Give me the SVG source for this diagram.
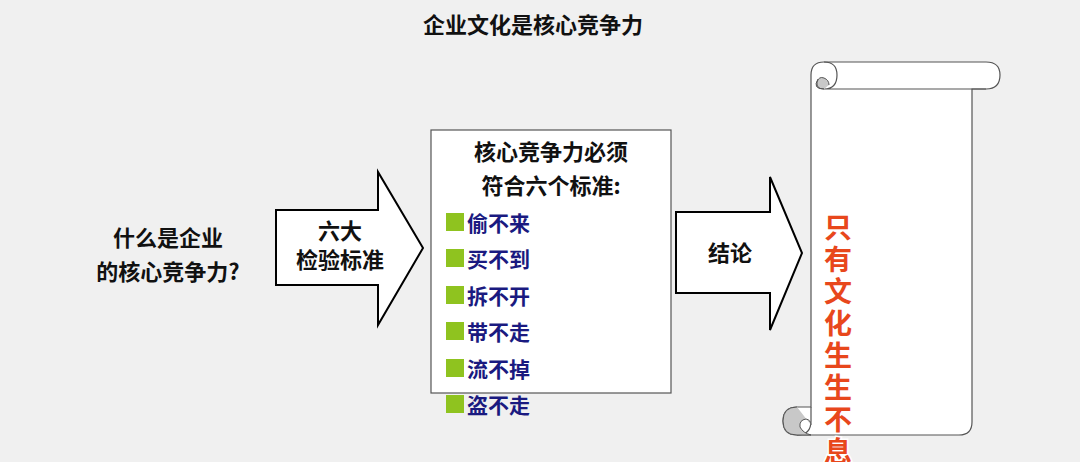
<svg xmlns="http://www.w3.org/2000/svg" width="1080" height="462" viewBox="0 0 1080 462">
<style>
text{font-family:"Noto Sans CJK SC","Liberation Sans",sans-serif;font-weight:bold}
.blk{fill:#111;font-size:22px}
.item{fill:#1a1a80;font-size:21px}
.sh{fill:#fff;stroke:#000;stroke-width:2}
.sq{fill:#8fc31f}
</style>
<rect width="1080" height="462" fill="#f0f0f0"/>
<text x="533" y="33" text-anchor="middle" class="blk" font-size="25">企业文化是核心竞争力</text>
<g id="question">
<text x="168" y="246" text-anchor="middle" class="blk" font-size="24">什么是企业</text>
<text x="168" y="280" text-anchor="middle" class="blk" font-size="24">的核心竞争力?</text>
</g>
<g id="connectors">
<path class="sh" d="M276,210 H378 V172 L423,248 L378,325 V285 H276 Z"/>
<text x="340" y="239" text-anchor="middle" class="blk" font-size="16">六大</text>
<text x="340" y="268" text-anchor="middle" class="blk" font-size="16">检验标准</text>
<path class="sh" d="M676,212 H770 V177 L802,253 L770,330 V293 H676 Z"/>
<text x="730" y="261" text-anchor="middle" class="blk">结论</text>
</g>
<g id="standards">
<rect x="431" y="130" width="240" height="263" fill="#fff" stroke="#555" stroke-width="1.2"/>
<text x="551" y="160" text-anchor="middle" class="blk">核心竞争力必须</text>
<text x="551" y="194" text-anchor="middle" class="blk">符合六个标准:</text>
<rect class="sq" x="446" y="213" width="18" height="18"/><text x="467" y="231" class="item">偷不来</text>
<rect class="sq" x="446" y="249" width="18" height="18"/><text x="467" y="267" class="item">买不到</text>
<rect class="sq" x="446" y="286" width="18" height="18"/><text x="467" y="304" class="item">拆不开</text>
<rect class="sq" x="446" y="322" width="18" height="18"/><text x="467" y="340" class="item">带不走</text>
<rect class="sq" x="446" y="359" width="18" height="18"/><text x="467" y="377" class="item">流不掉</text>
<rect class="sq" x="446" y="395" width="18" height="18"/><text x="467" y="413" class="item">盗不走</text>
</g>
<g id="scroll">
<path d="M811,75 Q811,62 824,62 H986 Q1000,62 1000,75 Q1000,89 986,89 H972 V422 Q972,435 959,435 H797 Q783,435 783,421 Q783,407 797,407 H811 Z" fill="#fff" stroke="#555" stroke-width="1.2"/>
<path d="M824,62 Q837,62 837,75 Q837,89 824,89 H986" fill="none" stroke="#555" stroke-width="1.2"/>
<path d="M824,89 Q816,89 817,82 Q819,76 824,78 Q829,80 829,85 M824,89 Q812,89 818,79" fill="#c8c8c8" stroke="#555" stroke-width="1"/>
<path d="M811,407 V421 Q811,435 797,435" fill="none" stroke="#555" stroke-width="1.2"/>
<path d="M797,407 Q783,407 783,421 Q783,435 797,435 H811 Q803,433 800,427 Q799,420 806,419 Q811,420 811,425" fill="#c8c8c8" stroke="#555" stroke-width="1"/>
<text x="838" y="213" writing-mode="vertical-rl" fill="#e8471c" font-size="28" stroke="#fff" stroke-width="3" paint-order="stroke" letter-spacing="4">只有文化生生不息</text>
</g>
</svg>
